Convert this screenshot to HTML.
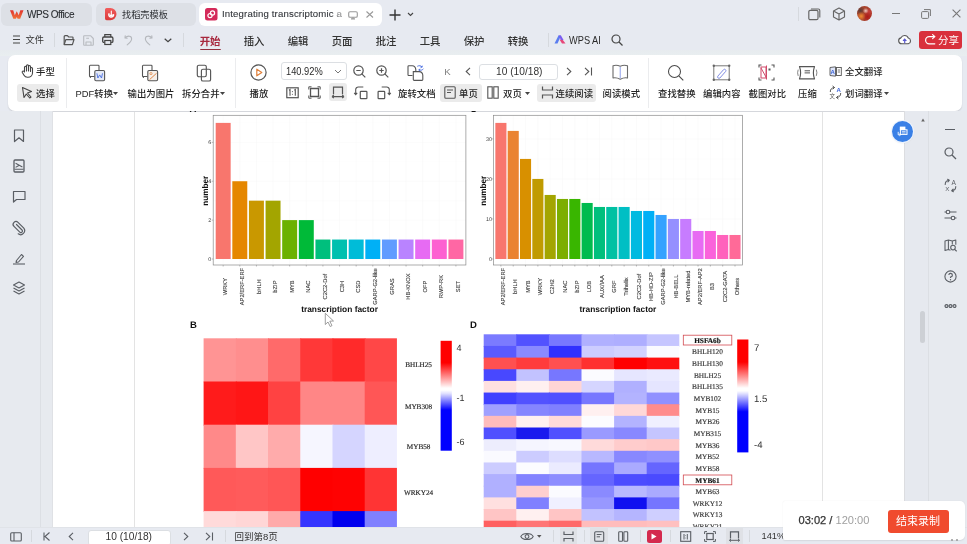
<!DOCTYPE html>
<html><head><meta charset="utf-8"><style>
html,body{margin:0;padding:0;}
body{width:967px;height:544px;overflow:hidden;position:relative;background:#e7eaf1;font-family:"Liberation Sans","Noto Sans CJK SC",sans-serif;}
.t{position:absolute;white-space:nowrap;}
svg{overflow:visible;}
</style></head><body>
<div style="position:absolute;left:1px;top:3px;width:91px;height:23px;background:#dde0e6;border-radius:6px"></div>
<div style="position:absolute;left:96px;top:3px;width:100px;height:23px;background:#dde0e6;border-radius:6px"></div>
<div style="position:absolute;left:199px;top:3px;width:183px;height:22.5px;background:#fff;border-radius:6px"></div>
<svg style="position:absolute;left:10px;top:9.5px;" width="13.5" height="9" viewBox="0 0 13.5 9" fill="none"><defs><linearGradient id="wg" x1="0" y1="0" x2="0" y2="1"><stop offset="0" stop-color="#e2342f"/><stop offset="1" stop-color="#f0743a"/></linearGradient></defs><path d="M0 0.3 H3.2 L4.8 5.2 L6.75 1.2 L8.7 5.2 L10.3 0.3 H13.5 L10.2 8.8 H7.6 L6.75 7 L5.9 8.8 H3.3 Z" fill="url(#wg)"/></svg>
<div class="t" style="left:27px;top:10px;font-size:10px;line-height:10px;color:#2c2f33;font-weight:normal;letter-spacing:-0.45px;-webkit-text-stroke:0.1px #2c2f33">WPS Office</div>
<svg style="position:absolute;left:105.2px;top:8.4px;" width="11.5" height="12.2" viewBox="0 0 11.5 12.2" fill="none"><defs><linearGradient id="dg" x1="0" y1="0" x2="0" y2="1"><stop offset="0" stop-color="#f25c5c"/><stop offset="1" stop-color="#d93a3a"/></linearGradient></defs><path d="M1.6 0 H5.4 A6.1 6.1 0 0 1 5.4 12.2 H1.6 A1.6 1.6 0 0 1 0 10.6 V1.6 A1.6 1.6 0 0 1 1.6 0 Z" fill="url(#dg)"/><path d="M4 5.8 A2.4 2.4 0 1 0 8.6 6.6" stroke="#fff" stroke-width="1.4" fill="none" stroke-linecap="round"/><path d="M6.3 3 V8.2 M4.9 6.9 L6.3 8.3 L7.7 6.9" stroke="#fff" stroke-width="1.1" stroke-linecap="round" stroke-linejoin="round"/></svg>
<div class="t" style="left:122px;top:10.6px;font-size:9.2px;line-height:9.2px;color:#2c2f33;font-weight:normal;">找稻壳模板</div>
<svg style="position:absolute;left:205px;top:8px;" width="13" height="13" viewBox="0 0 13 13" fill="none"><rect x="0" y="0" width="12.5" height="12.5" rx="2.5" fill="#d42a5a"/><circle cx="7.5" cy="5" r="2.1" stroke="#fff" stroke-width="1.2"/><circle cx="5" cy="7.6" r="2.1" stroke="#fff" stroke-width="1.2"/></svg>
<div class="t" style="left:222px;top:8.6px;font-size:9.6px;line-height:9.6px;color:#33363b;font-weight:normal;letter-spacing:0.15px;-webkit-text-stroke:0.1px #33363b">Integrating transcriptomic <span style="color:#aaa">a</span></div>
<svg style="position:absolute;left:348px;top:10.5px;" width="10" height="8.5" viewBox="0 0 10 8.5" fill="none"><rect x="0.7" y="0.7" width="8.6" height="5.6" rx="1.3" stroke="#999" stroke-width="1.1"/><path d="M3 7.9 H7 M5 6.3 V7.9" stroke="#999" stroke-width="1.1"/></svg>
<svg style="position:absolute;left:365.5px;top:11px;" width="7.5" height="7" viewBox="0 0 7.5 7" fill="none"><path d="M0.5 0.5 L7 6.5 M7 0.5 L0.5 6.5" stroke="#999" stroke-width="1.1"/></svg>
<svg style="position:absolute;left:389px;top:9px;" width="12" height="12" viewBox="0 0 12 12" fill="none"><path d="M6 0.5 V11.5 M0.5 6 H11.5" stroke="#333" stroke-width="1.4"/></svg>
<svg style="position:absolute;left:407px;top:12px;" width="7" height="5" viewBox="0 0 7 5" fill="none"><path d="M1 1 L3.5 3.5 L6 1" stroke="#444" stroke-width="1.1"/></svg>
<div style="position:absolute;left:798px;top:7px;width:1px;height:14px;background:#d6d9de"></div>
<svg style="position:absolute;left:807.5px;top:7.5px;" width="13" height="12.5" viewBox="0 0 13 12.5" fill="none"><rect x="0.8" y="2.3" width="9.2" height="9.4" rx="1.5" stroke="#666" stroke-width="1.2"/><path d="M3 1 H10.3 A1.5 1.5 0 0 1 11.8 2.5 V9.6" stroke="#666" stroke-width="1.1"/></svg>
<svg style="position:absolute;left:832px;top:7px;" width="14" height="14" viewBox="0 0 14 14" fill="none"><path d="M7 1 L12.5 4 V10 L7 13 L1.5 10 V4 Z M1.5 4 L7 7 L12.5 4 M7 7 V13" stroke="#666" stroke-width="1.15" stroke-linejoin="round"/></svg>
<div style="position:absolute;left:857px;top:6px;width:15px;height:15px;border-radius:50%;background:radial-gradient(circle at 58% 32%,#f0c8c0 0,#f0c8c000 22%),radial-gradient(circle at 28% 68%,#f08a30 0,#f08a3000 30%),radial-gradient(circle at 70% 72%,#b01818 0,#b0181800 35%),radial-gradient(circle at 22% 30%,#5a3a34 0,#5a3a3400 30%),radial-gradient(circle at 80% 40%,#c83a3a 0,#c83a3a00 30%),#a8442e"></div>
<div style="position:absolute;left:892px;top:13px;width:8px;height:1px;background:#777"></div>
<svg style="position:absolute;left:921px;top:9px;" width="11" height="10" viewBox="0 0 11 10" fill="none"><rect x="0.6" y="2.6" width="7" height="6.8" rx="1" stroke="#777" stroke-width="1"/><path d="M3 0.6 H9.4 V7" stroke="#777" stroke-width="1"/></svg>
<svg style="position:absolute;left:952px;top:9px;" width="9" height="9" viewBox="0 0 9 9" fill="none"><path d="M0.6 0.6 L8.4 8.4 M8.4 0.6 L0.6 8.4" stroke="#777" stroke-width="1.1"/></svg>
<svg style="position:absolute;left:13px;top:35px;" width="7" height="9" viewBox="0 0 7 9" fill="none"><path d="M0 1 H7 M0 4.5 H7 M0 8 H7" stroke="#444" stroke-width="1.2"/></svg>
<div class="t" style="left:25.5px;top:36px;font-size:9.2px;line-height:9.2px;color:#333;font-weight:normal;">文件</div>
<div style="position:absolute;left:54px;top:33px;width:1px;height:14px;background:#d6d9de"></div>
<svg style="position:absolute;left:62.5px;top:34.5px;" width="11.5" height="10.5" viewBox="0 0 11.5 10.5" fill="none"><path d="M1.2 9.6 V1.6 A0.9 0.9 0 0 1 2.1 0.7 H4.4 L5.7 2 H9.4 A0.6 0.6 0 0 1 10 2.6 V4.2" stroke="#555" stroke-width="1.2" stroke-linejoin="round"/><path d="M1.2 9.6 L2.8 4.6 H11 L9.4 9.6 Z" stroke="#555" stroke-width="1.2" stroke-linejoin="round"/></svg>
<svg style="position:absolute;left:83px;top:34.5px;" width="11" height="11" viewBox="0 0 11 11" fill="none"><path d="M1.2 0.7 H7.5 L10.3 3.5 V9.8 A0.5 0.5 0 0 1 9.8 10.3 H1.2 A0.5 0.5 0 0 1 0.7 9.8 V1.2 A0.5 0.5 0 0 1 1.2 0.7 Z M3 10.3 V7 H8 V10.3 M3.2 3.3 H6" stroke="#b8bbc0" stroke-width="1.1" stroke-linejoin="round"/></svg>
<svg style="position:absolute;left:102px;top:34.2px;" width="11.6" height="11.2" viewBox="0 0 11.6 11.2" fill="none"><path d="M2.8 3 V0.7 H8.8 V3" stroke="#444" stroke-width="1.2"/><path d="M2.5 8.4 H1.9 A1.2 1.2 0 0 1 0.7 7.2 V4.2 A1.2 1.2 0 0 1 1.9 3 H9.7 A1.2 1.2 0 0 1 10.9 4.2 V7.2 A1.2 1.2 0 0 1 9.7 8.4 H9.1" stroke="#444" stroke-width="1.3"/><rect x="2.8" y="6.5" width="6" height="4" stroke="#444" stroke-width="1.2" fill="none"/></svg>
<svg style="position:absolute;left:123.5px;top:35px;" width="9" height="10.5" viewBox="0 0 9 10.5" fill="none"><path d="M1 3 C3.5 0.3 8 0.5 7.6 4.2 C7.3 6.5 5 8.3 3.2 9.8 M1 3 L1.2 0.8 M1 3 L3.2 3.3" stroke="#b5b8bd" stroke-width="1.1" fill="none" stroke-linecap="round"/></svg>
<svg style="position:absolute;left:143.5px;top:35px;" width="9" height="10.5" viewBox="0 0 9 10.5" fill="none"><g transform="translate(9,0) scale(-1,1)"><path d="M1 3 C3.5 0.3 8 0.5 7.6 4.2 C7.3 6.5 5 8.3 3.2 9.8 M1 3 L1.2 0.8 M1 3 L3.2 3.3" stroke="#b5b8bd" stroke-width="1.1" fill="none" stroke-linecap="round"/></g></svg>
<svg style="position:absolute;left:163.5px;top:38px;" width="8" height="4.5" viewBox="0 0 8 4.5" fill="none"><path d="M0.7 0.7 L4 3.8 L7.3 0.7" stroke="#444" stroke-width="1.2"/></svg>
<div style="position:absolute;left:183px;top:33px;width:1px;height:14px;background:#d6d9de"></div>
<div class="t" style="left:199.7px;top:36.9px;font-size:10.4px;line-height:10.4px;color:#a8283e;font-weight:bold;">开始</div>
<div class="t" style="left:243.7px;top:36.9px;font-size:10.4px;line-height:10.4px;color:#333;font-weight:500;">插入</div>
<div class="t" style="left:287.7px;top:36.9px;font-size:10.4px;line-height:10.4px;color:#333;font-weight:500;">编辑</div>
<div class="t" style="left:331.7px;top:36.9px;font-size:10.4px;line-height:10.4px;color:#333;font-weight:500;">页面</div>
<div class="t" style="left:375.7px;top:36.9px;font-size:10.4px;line-height:10.4px;color:#333;font-weight:500;">批注</div>
<div class="t" style="left:419.7px;top:36.9px;font-size:10.4px;line-height:10.4px;color:#333;font-weight:500;">工具</div>
<div class="t" style="left:463.7px;top:36.9px;font-size:10.4px;line-height:10.4px;color:#333;font-weight:500;">保护</div>
<div class="t" style="left:507.7px;top:36.9px;font-size:10.4px;line-height:10.4px;color:#333;font-weight:500;">转换</div>
<div style="position:absolute;left:200px;top:49px;width:21px;height:1.8px;background:#93303f;border-radius:1px"></div>
<div style="position:absolute;left:548px;top:33px;width:1px;height:14px;background:#d6d9de"></div>
<svg style="position:absolute;left:554px;top:35px;" width="12" height="9" viewBox="0 0 12 9" fill="none"><path d="M0.5 8.5 L4.5 0.5 H7 L3.5 8.5 Z" fill="#5a7df0"/><path d="M5.5 4.5 L8 8.5 H11.5 L8.5 4.5 Z" fill="#e6477a"/><path d="M4.5 0.5 H7 L9.5 5 H7 Z" fill="#7a5cf0"/></svg>
<div class="t" style="left:569px;top:34.6px;font-size:11px;line-height:11px;color:#2a2a2a;font-weight:normal;"><span style="display:inline-block;transform:scaleX(0.84);transform-origin:0 0">WPS AI</span></div>
<svg style="position:absolute;left:611px;top:34px;" width="12" height="12" viewBox="0 0 12 12" fill="none"><circle cx="5" cy="5" r="4" stroke="#444" stroke-width="1.2"/><path d="M8 8 L11.5 11.5" stroke="#444" stroke-width="1.3"/></svg>
<svg style="position:absolute;left:897.5px;top:34.3px;" width="13.5" height="10.5" viewBox="0 0 13.5 10.5" fill="none"><path d="M3.6 9.8 A3 3 0 0 1 2.9 3.9 A4 4 0 0 1 10.3 4 A3 3 0 0 1 10.3 9.8 Z" stroke="#555" stroke-width="1.1" fill="#fff"/><path d="M6.7 9.2 V5.2 M5 6.8 L6.7 5.1 L8.4 6.8" stroke="#5a5ad0" stroke-width="1.2"/></svg>
<div style="position:absolute;left:919px;top:31px;width:43px;height:18px;background:#d9303c;border-radius:3px"></div>
<svg style="position:absolute;left:924px;top:33.5px;" width="12" height="12.5" viewBox="0 0 12 12.5" fill="none"><path d="M10.8 2.6 H5.2 A3.6 3.6 0 0 0 5.2 9.8 H10.8 M8.6 0.6 L10.9 2.6 L8.6 4.6" stroke="#fff" stroke-width="1.2" fill="none" stroke-linejoin="round" stroke-linecap="round"/></svg>
<div class="t" style="left:938px;top:35px;font-size:10.5px;line-height:10.5px;color:#fff;font-weight:normal;">分享</div>
<div style="position:absolute;left:0px;top:49.5px;width:967px;height:6px;background:linear-gradient(#e7ebef,#e9eef0)"></div>
<div style="position:absolute;left:8px;top:55px;width:954px;height:56px;background:#fff;border-radius:7px;box-shadow:0 1px 1.5px rgba(0,0,0,0.13)"></div>
<svg style="position:absolute;left:21px;top:64px;" width="13" height="14" viewBox="0 0 13 14" fill="none"><path d="M3.5 8 V3.2 A1 1 0 0 1 5.5 3.2 V7 V1.8 A1 1 0 0 1 7.5 1.8 V7 V2.5 A1 1 0 0 1 9.5 2.5 V7.5 V4.5 A1 1 0 0 1 11.5 4.5 V9 A4.5 4.5 0 0 1 7 13.3 H6.5 A4 4 0 0 1 3 11.3 L1.2 8.2 A1 1 0 0 1 2.8 7.2 Z" stroke="#444" stroke-width="1.1" stroke-linejoin="round"/></svg>
<div class="t" style="left:36px;top:66.8px;font-size:9.4px;line-height:9.4px;color:#262626;font-weight:500;">手型</div>
<div style="position:absolute;left:17px;top:84px;width:42px;height:18px;background:#ebebeb;border-radius:3px"></div>
<svg style="position:absolute;left:21px;top:86px;" width="12" height="13" viewBox="0 0 12 13" fill="none"><path d="M1.5 1.5 L10.5 5.5 L6.5 7 L10 11 L8.7 12 L5.3 8 L3 11.5 Z" stroke="#444" stroke-width="1.1" stroke-linejoin="round"/></svg>
<div class="t" style="left:36px;top:88.8px;font-size:9.4px;line-height:9.4px;color:#262626;font-weight:500;">选择</div>
<div style="position:absolute;left:66px;top:58px;width:1px;height:50px;background:#ebecee"></div>
<svg style="position:absolute;left:88px;top:64px;" width="18" height="18" viewBox="0 0 18 18" fill="none"><path d="M6.5 12.5 H2.3 A0.8 0.8 0 0 1 1.5 11.7 V2.1 A0.8 0.8 0 0 1 2.3 1.3 H10.2 A0.8 0.8 0 0 1 11 2.1 V6" stroke="#555" stroke-width="1.1"/><path d="M1.5 12.5 L2.8 14" stroke="#555" stroke-width="1"/><rect x="6.8" y="6.5" width="9.8" height="10.3" rx="1.2" stroke="#555" stroke-width="1.1" fill="#e4e9f6"/><path d="M8.9 9.3 L9.9 14 L11.7 10.9 L13.5 14 L14.5 9.3" stroke="#4a6ee0" stroke-width="0.9"/></svg>
<div class="t" style="left:75.5px;top:88.8px;font-size:9.4px;line-height:9.4px;color:#262626;font-weight:500;">PDF转换</div>
<svg style="position:absolute;left:112.5px;top:92px;" width="5" height="3" viewBox="0 0 5 3" fill="none"><path d="M0 0 H5 L2.5 3 Z" fill="#444"/></svg>
<svg style="position:absolute;left:141px;top:64px;" width="18" height="18" viewBox="0 0 18 18" fill="none"><path d="M6.5 12.5 H2.3 A0.8 0.8 0 0 1 1.5 11.7 V2.1 A0.8 0.8 0 0 1 2.3 1.3 H10.2 A0.8 0.8 0 0 1 11 2.1 V6" stroke="#555" stroke-width="1.1"/><path d="M1.5 12.5 L2.8 14" stroke="#555" stroke-width="1"/><rect x="6.8" y="6.5" width="9.8" height="10.3" rx="1.2" stroke="#555" stroke-width="1.1" fill="#f6efe9"/><circle cx="10" cy="9.6" r="1.1" stroke="#e08a4a" stroke-width="0.8"/><path d="M8.6 15.6 L15.6 9.2" stroke="#e08a4a" stroke-width="1"/></svg>
<div class="t" style="left:127.5px;top:88.8px;font-size:9.4px;line-height:9.4px;color:#262626;font-weight:500;">输出为图片</div>
<svg style="position:absolute;left:196px;top:64px;" width="16" height="18" viewBox="0 0 16 18" fill="none"><rect x="1.3" y="1.2" width="9" height="11.5" rx="1.6" stroke="#555" stroke-width="1.15"/><rect x="5.4" y="5.2" width="9.2" height="11.8" rx="1.6" stroke="#555" stroke-width="1.15"/></svg>
<div class="t" style="left:182px;top:88.8px;font-size:9.4px;line-height:9.4px;color:#262626;font-weight:500;">拆分合并</div>
<svg style="position:absolute;left:219.5px;top:92px;" width="5" height="3" viewBox="0 0 5 3" fill="none"><path d="M0 0 H5 L2.5 3 Z" fill="#444"/></svg>
<div style="position:absolute;left:235px;top:58px;width:1px;height:50px;background:#ebecee"></div>
<svg style="position:absolute;left:250px;top:64px;" width="17" height="17" viewBox="0 0 17 17" fill="none"><circle cx="8.5" cy="8.5" r="7.6" stroke="#555" stroke-width="1.2"/><path d="M6.8 5.2 L11.8 8.5 L6.8 11.8 Z" stroke="#e0803a" stroke-width="1.2" stroke-linejoin="round"/></svg>
<div class="t" style="left:249.5px;top:88.8px;font-size:9.4px;line-height:9.4px;color:#262626;font-weight:500;">播放</div>
<div style="position:absolute;left:280.8px;top:62.2px;width:66px;height:18px;border:1px solid #dcdfe3;border-radius:3px;box-sizing:border-box;background:#fff"></div>
<div class="t" style="left:285.6px;top:65.8px;font-size:10.5px;line-height:10.5px;color:#2a2a2a;font-weight:normal;"><span style="display:inline-block;transform:scaleX(0.885);transform-origin:0 0">140.92%</span></div>
<svg style="position:absolute;left:334px;top:69px;" width="8" height="5" viewBox="0 0 8 5" fill="none"><path d="M1 1 L4 4 L7 1" stroke="#777" stroke-width="1"/></svg>
<svg style="position:absolute;left:285.5px;top:86.5px;" width="13" height="11.5" viewBox="0 0 13 11.5" fill="none"><rect x="0.8" y="0.8" width="11.4" height="9.9" stroke="#555" stroke-width="1.2"/><path d="M3 3.3 L4 2.6 V8.8 M8.3 3.3 L9.3 2.6 V8.8" stroke="#555" stroke-width="1.1"/><circle cx="6.4" cy="4.6" r="0.55" fill="#555"/><circle cx="6.4" cy="7.2" r="0.55" fill="#555"/></svg>
<svg style="position:absolute;left:308px;top:86px;" width="13" height="13" viewBox="0 0 13 13" fill="none"><path d="M2.5 2.5 H10.5 V10.5 H2.5 Z" stroke="#555" stroke-width="1.3"/><path d="M0.8 3.5 V0.8 H3.5 M9.5 0.8 H12.2 V3.5 M12.2 9.5 V12.2 H9.5 M3.5 12.2 H0.8 V9.5" stroke="#555" stroke-width="1"/></svg>
<div style="position:absolute;left:328.5px;top:83px;width:18px;height:17.5px;background:#ebebeb;border-radius:3px"></div>
<svg style="position:absolute;left:331px;top:86px;" width="14" height="12.5" viewBox="0 0 14 12.5" fill="none"><path d="M2.5 8.2 V1.2 H11.5 V8.2" stroke="#555" stroke-width="1.2"/><path d="M1 10.6 H13 M1 10.6 L2.8 9 M1 10.6 L2.8 12.2 M13 10.6 L11.2 9 M13 10.6 L11.2 12.2" stroke="#555" stroke-width="1.1"/></svg>
<svg style="position:absolute;left:353px;top:65px;" width="13" height="13" viewBox="0 0 13 13" fill="none"><circle cx="5.5" cy="5.5" r="4.7" stroke="#555" stroke-width="1.2"/><path d="M3.3 5.5 H7.7 M8.8 8.8 L12.3 12.3" stroke="#555" stroke-width="1.2"/></svg>
<svg style="position:absolute;left:376px;top:65px;" width="13" height="13" viewBox="0 0 13 13" fill="none"><circle cx="5.5" cy="5.5" r="4.7" stroke="#555" stroke-width="1.2"/><path d="M3.3 5.5 H7.7 M5.5 3.3 V7.7 M8.8 8.8 L12.3 12.3" stroke="#555" stroke-width="1.2"/></svg>
<svg style="position:absolute;left:354px;top:86px;" width="14" height="13.5" viewBox="0 0 14 13.5" fill="none"><rect x="6.3" y="5.3" width="6.6" height="7.4" rx="0.7" stroke="#555" stroke-width="1.2"/><path d="M9.3 1 H4.3 A2.6 2.6 0 0 0 1.7 3.6 V8.6 M0.2 6.9 L1.7 8.7 L3.2 6.9" stroke="#555" stroke-width="1.1" fill="none"/></svg>
<svg style="position:absolute;left:376.5px;top:86px;" width="14" height="13.5" viewBox="0 0 14 13.5" fill="none"><g transform="translate(14,0) scale(-1,1)"><rect x="6.3" y="5.3" width="6.6" height="7.4" rx="0.7" stroke="#555" stroke-width="1.2"/><path d="M9.3 1 H4.3 A2.6 2.6 0 0 0 1.7 3.6 V8.6 M0.2 6.9 L1.7 8.7 L3.2 6.9" stroke="#555" stroke-width="1.1" fill="none"/></g></svg>
<svg style="position:absolute;left:407px;top:64px;" width="18" height="18" viewBox="0 0 18 18" fill="none"><path d="M5.5 11.5 H1.8 A0.8 0.8 0 0 1 1 10.7 V2.6 A0.8 0.8 0 0 1 1.8 1.8 H5.2 Q8.5 2 8.8 5.6 V7" stroke="#555" stroke-width="1.1" fill="none"/><path d="M6.3 7.6 H12.2 Q15.6 7.8 15.8 11.3 V15.6 A0.8 0.8 0 0 1 15 16.4 H7.1 A0.8 0.8 0 0 1 6.3 15.6 Z" stroke="#555" stroke-width="1.1" fill="#fff"/><path d="M10.3 2.3 C12 1.3 14 1.6 15 3 M13.5 3.2 L15.1 3.3 L15.3 1.7 M16.4 4.7 C15.6 6.2 13.6 6.6 12 5.8 M13.3 5 L11.8 5.7 L12.6 7" stroke="#4a6ee0" stroke-width="0.95" fill="none"/></svg>
<div class="t" style="left:398px;top:88.8px;font-size:9.4px;line-height:9.4px;color:#262626;font-weight:500;">旋转文档</div>
<div class="t" style="left:444.3px;top:67.3px;font-size:9.6px;line-height:9.6px;color:#808080;font-weight:normal;">K</div>
<svg style="position:absolute;left:465px;top:67px;" width="6" height="9" viewBox="0 0 6 9" fill="none"><path d="M5 0.8 L1.2 4.5 L5 8.2" stroke="#555" stroke-width="1.1"/></svg>
<div style="position:absolute;left:478.5px;top:63.5px;width:79px;height:16.5px;border:1px solid #dcdfe3;border-radius:3px;box-sizing:border-box;background:#fff"></div>
<div class="t" style="left:496px;top:66.5px;font-size:10.2px;line-height:10.2px;color:#333;font-weight:normal;">10 (10/18)</div>
<svg style="position:absolute;left:566px;top:67px;" width="6" height="9" viewBox="0 0 6 9" fill="none"><path d="M1 0.8 L4.8 4.5 L1 8.2" stroke="#555" stroke-width="1.1"/></svg>
<svg style="position:absolute;left:584px;top:67px;" width="9" height="9" viewBox="0 0 9 9" fill="none"><path d="M1 0.8 L4.8 4.5 L1 8.2 M7.5 0.5 V8.5" stroke="#555" stroke-width="1.1"/></svg>
<div style="position:absolute;left:440px;top:84px;width:41.5px;height:17.5px;background:#ebebeb;border-radius:3px"></div>
<svg style="position:absolute;left:444px;top:86px;" width="12" height="13" viewBox="0 0 12 13" fill="none"><rect x="0.8" y="0.8" width="10.4" height="11.4" rx="1" stroke="#555" stroke-width="1.1"/><path d="M3 4 H9 M3 6.5 H7" stroke="#555" stroke-width="1"/></svg>
<div class="t" style="left:459px;top:88.8px;font-size:9.4px;line-height:9.4px;color:#262626;font-weight:500;">单页</div>
<svg style="position:absolute;left:487px;top:86px;" width="12" height="13" viewBox="0 0 12 13" fill="none"><rect x="0.8" y="0.8" width="4.4" height="11.4" stroke="#555" stroke-width="1.1"/><rect x="6.8" y="0.8" width="4.4" height="11.4" stroke="#555" stroke-width="1.1"/></svg>
<div class="t" style="left:503px;top:88.8px;font-size:9.4px;line-height:9.4px;color:#262626;font-weight:500;">双页</div>
<svg style="position:absolute;left:525px;top:92px;" width="5" height="3" viewBox="0 0 5 3" fill="none"><path d="M0 0 H5 L2.5 3 Z" fill="#444"/></svg>
<div style="position:absolute;left:536.5px;top:84px;width:59.5px;height:17.5px;background:#ebebeb;border-radius:3px"></div>
<svg style="position:absolute;left:540.5px;top:86px;" width="13" height="13" viewBox="0 0 13 13" fill="none"><path d="M1.5 0.5 V4 H11.5 V0.5 M1.5 12.5 V9 H11.5 V12.5" stroke="#555" stroke-width="1.2"/></svg>
<div class="t" style="left:555.5px;top:88.8px;font-size:9.4px;line-height:9.4px;color:#262626;font-weight:500;">连续阅读</div>
<svg style="position:absolute;left:612px;top:64.3px;" width="16.5" height="16.5" viewBox="0 0 16.5 16.5" fill="none"><path d="M1 1.8 Q4.6 0.6 8.25 2.3 Q11.9 0.6 15.5 1.8 V14 Q11.9 13.3 8.25 15.3 Q4.6 13.3 1 14 Z" stroke="#6a6a6a" stroke-width="1.1" stroke-linejoin="round"/><path d="M8.25 3 V14.3" stroke="#9aa8ee" stroke-width="1.1"/></svg>
<div class="t" style="left:602.5px;top:88.8px;font-size:9.4px;line-height:9.4px;color:#262626;font-weight:500;">阅读模式</div>
<div style="position:absolute;left:648px;top:58px;width:1px;height:50px;background:#ebecee"></div>
<svg style="position:absolute;left:667px;top:64px;" width="18" height="18" viewBox="0 0 18 18" fill="none"><circle cx="7.5" cy="7.5" r="6" stroke="#4a4a4a" stroke-width="1.05"/><path d="M11.8 11.8 L16.3 16.3" stroke="#4a4a4a" stroke-width="1.15"/></svg>
<div class="t" style="left:658px;top:88.8px;font-size:9.4px;line-height:9.4px;color:#262626;font-weight:500;">查找替换</div>
<svg style="position:absolute;left:712px;top:64px;" width="19" height="18" viewBox="0 0 19 18" fill="none"><rect x="1.8" y="1.8" width="15.4" height="14" stroke="#777" stroke-width="1"/><circle cx="1.8" cy="1.8" r="1.2" fill="#666"/><circle cx="17.2" cy="1.8" r="1.2" fill="#666"/><circle cx="1.8" cy="15.8" r="1.2" fill="#666"/><circle cx="17.2" cy="15.8" r="1.2" fill="#666"/><path d="M5.8 12.2 L11.6 5.6 A1.4 1.4 0 0 1 13.7 7.4 L7.9 14 A1.4 1.4 0 0 1 5.8 12.2 Z" stroke="#7b88e2" stroke-width="0.95" stroke-linejoin="round"/></svg>
<div class="t" style="left:703px;top:88.8px;font-size:9.4px;line-height:9.4px;color:#262626;font-weight:500;">编辑内容</div>
<svg style="position:absolute;left:758px;top:64px;" width="17" height="17" viewBox="0 0 17 17" fill="none"><path d="M1 3.5 V1 H3.5 M13.5 1 H16 V3.5 M16 13.5 V16 H13.5 M3.5 16 H1 V13.5" stroke="#555" stroke-width="1.1"/><rect x="3" y="3" width="5" height="11" stroke="#d04a6a" stroke-width="1"/><path d="M3 4 L8 13" stroke="#d04a6a" stroke-width="1"/><path d="M8.5 1.5 V15.5" stroke="#d04a6a" stroke-width="1"/><rect x="10.5" y="4.5" width="2" height="2" fill="#555"/></svg>
<div class="t" style="left:748.5px;top:88.8px;font-size:9.4px;line-height:9.4px;color:#262626;font-weight:500;">截图对比</div>
<svg style="position:absolute;left:797px;top:65px;" width="20.5" height="15.5" viewBox="0 0 20.5 15.5" fill="none"><path d="M2.5 1.6 H17.5 Q15.3 7.75 17.5 13.9 H2.5 Q4.7 7.75 2.5 1.6 Z" stroke="#555" stroke-width="1.15" stroke-linejoin="round"/><path d="M7.6 5.8 H13 M7.6 7.9 H13" stroke="#555" stroke-width="1"/><path d="M1.2 4.6 Q0 7.75 1.2 10.9 M19.3 4.6 Q20.5 7.75 19.3 10.9" stroke="#777" stroke-width="0.9"/></svg>
<div class="t" style="left:798px;top:88.8px;font-size:9.4px;line-height:9.4px;color:#262626;font-weight:500;">压缩</div>
<svg style="position:absolute;left:829px;top:66px;" width="13" height="11" viewBox="0 0 13 11" fill="none"><path d="M1 1.5 L6.5 0.8 V10.2 L1 9.5 Z" stroke="#555" stroke-width="0.9" fill="#dfe6fb"/><text x="3.7" y="7.6" font-size="6" text-anchor="middle" fill="#3b63d8" font-family="Liberation Sans" font-weight="bold">A</text><rect x="7.5" y="1.5" width="4.8" height="8" stroke="#555" stroke-width="0.9"/><path d="M8.8 4 H11 M8.8 6 H11" stroke="#555" stroke-width="0.8"/></svg>
<div class="t" style="left:845px;top:67.3px;font-size:9.4px;line-height:9.4px;color:#262626;font-weight:500;">全文翻译</div>
<svg style="position:absolute;left:829px;top:86px;" width="13" height="13" viewBox="0 0 13 13" fill="none"><path d="M1.3 5.6 Q1.2 1.8 5.3 1.5 M3.9 0.2 L5.5 1.5 L4 3" stroke="#555" stroke-width="1" stroke-linecap="round" stroke-linejoin="round"/><text x="9.6" y="5.8" font-size="6" text-anchor="middle" fill="#3b63d8" font-family="Liberation Sans" font-weight="bold">A</text><text x="3.2" y="12.3" font-size="5.5" text-anchor="middle" fill="#555" font-family="Noto Sans CJK SC">文</text><path d="M11.7 7.4 Q11.8 11.2 7.7 11.5 M9.1 12.8 L7.5 11.5 L9 10" stroke="#555" stroke-width="1" stroke-linecap="round" stroke-linejoin="round"/></svg>
<div class="t" style="left:845px;top:88.8px;font-size:9.4px;line-height:9.4px;color:#262626;font-weight:500;">划词翻译</div>
<svg style="position:absolute;left:884px;top:92px;" width="5" height="3" viewBox="0 0 5 3" fill="none"><path d="M0 0 H5 L2.5 3 Z" fill="#444"/></svg>
<div style="position:absolute;left:0px;top:111px;width:40px;height:416px;background:#e7eaef"></div>
<div style="position:absolute;left:40px;top:111px;width:1px;height:416px;background:#dcdfe4"></div>
<div style="position:absolute;left:41px;top:111px;width:12px;height:416px;background:#e7eaef"></div>
<div style="position:absolute;left:52px;top:111px;width:1px;height:416px;background:#dfe1e5"></div>
<div style="position:absolute;left:53px;top:111px;width:851px;height:416px;background:#ffffff"></div>
<div style="position:absolute;left:134px;top:111px;width:1px;height:416px;background:#e3e3e3"></div>
<div style="position:absolute;left:822px;top:111px;width:1px;height:416px;background:#e3e3e3"></div>
<div style="position:absolute;left:904px;top:111px;width:24px;height:416px;background:#e6e9ef"></div>
<div style="position:absolute;left:904px;top:111px;width:1px;height:416px;background:#dcdde0"></div>
<div style="position:absolute;left:928px;top:111px;width:1px;height:416px;background:#dcdfe4"></div>
<div style="position:absolute;left:929px;top:111px;width:38px;height:416px;background:#e7eaef"></div>
<div style="position:absolute;left:53px;top:111px;width:851px;height:1px;background:#d5d7dc"></div>
<svg style="position:absolute;left:13px;top:129px;" width="12" height="14" viewBox="0 0 12 14" fill="none"><path d="M1.5 1 H10.5 V12.5 L6 8.8 L1.5 12.5 Z" stroke="#5a5e64" stroke-width="1.2" stroke-linejoin="round"/></svg>
<svg style="position:absolute;left:13px;top:159px;" width="12" height="14" viewBox="0 0 12 14" fill="none"><rect x="1" y="1" width="10" height="12" rx="1" stroke="#5a5e64" stroke-width="1.3"/><path d="M2.6 4.3 L9.4 8 M2.6 8.4 L6.2 6.2 M1.5 10.3 H10.5" stroke="#5a5e64" stroke-width="1.1"/></svg>
<svg style="position:absolute;left:12px;top:190px;" width="15" height="13" viewBox="0 0 15 13" fill="none"><path d="M1.5 1.5 H13 V9.5 H4.5 L1.5 12 Z" stroke="#5a5e64" stroke-width="1.2" stroke-linejoin="round"/></svg>
<svg style="position:absolute;left:12px;top:221px;" width="14" height="13" viewBox="0 0 14 13" fill="none"><g transform="translate(14,0) scale(-1,1)"><path d="M9.5 3.5 L4 9 A1.5 1.5 0 0 0 6.2 11.2 L12 5.4 A2.8 2.8 0 0 0 8 1.4 L2.2 7.2 A4 4 0 0 0 7.8 12.8" stroke="#5a5e64" stroke-width="1.2" stroke-linecap="round"/></g></svg>
<svg style="position:absolute;left:12px;top:252px;" width="14" height="13" viewBox="0 0 14 13" fill="none"><path d="M4.5 8.5 L9.5 2.5 L11.5 4.3 L6.5 10 L4 10.5 Z" stroke="#5a5e64" stroke-width="1.1" stroke-linejoin="round"/><path d="M1 12 H13" stroke="#5a5e64" stroke-width="1.1"/></svg>
<svg style="position:absolute;left:12px;top:281px;" width="14" height="14" viewBox="0 0 14 14" fill="none"><path d="M7 1 L12.5 4 L7 7 L1.5 4 Z" stroke="#5a5e64" stroke-width="1.1" stroke-linejoin="round"/><path d="M1.5 7 L7 10 L12.5 7 M1.5 10 L7 13 L12.5 10" stroke="#5a5e64" stroke-width="1.1" stroke-linejoin="round"/></svg>
<svg style="position:absolute;left:921px;top:118px;" width="4" height="4" viewBox="0 0 4 4" fill="none"><path d="M2 0.5 L3.8 3.5 H0.2 Z" fill="#666"/></svg>
<div style="position:absolute;left:945px;top:129px;width:10px;height:1.2px;background:#5a5e64"></div>
<svg style="position:absolute;left:944px;top:147px;" width="13" height="13" viewBox="0 0 13 13" fill="none"><circle cx="5" cy="5" r="4" stroke="#5a5e64" stroke-width="1.2"/><path d="M8 8 L12 12" stroke="#5a5e64" stroke-width="1.3"/></svg>
<svg style="position:absolute;left:944px;top:178.5px;" width="13" height="13" viewBox="0 0 13 13" fill="none"><path d="M1.2 5.5 A4.3 4.3 0 0 1 5.2 1.3 M3.6 0.2 L5.3 1.3 L3.9 2.9" stroke="#5a5e64" stroke-width="1.05" stroke-linecap="round" stroke-linejoin="round"/><text x="9.6" y="5.6" font-size="6.6" text-anchor="middle" fill="#5a5e64" font-family="Liberation Sans">A</text><text x="3.3" y="12.2" font-size="6.2" text-anchor="middle" fill="#5a5e64" font-family="Liberation Sans">X</text><path d="M11.8 7.5 A4.3 4.3 0 0 1 7.8 11.7 M9.4 12.8 L7.7 11.7 L9.1 10.1" stroke="#5a5e64" stroke-width="1.05" stroke-linecap="round" stroke-linejoin="round"/></svg>
<svg style="position:absolute;left:944px;top:209px;" width="13" height="12" viewBox="0 0 13 12" fill="none"><path d="M0.5 3 H12.5 M0.5 9 H12.5" stroke="#5a5e64" stroke-width="1.1"/><circle cx="4" cy="3" r="1.8" fill="#eef0f4" stroke="#5a5e64" stroke-width="1.1"/><circle cx="9" cy="9" r="1.8" fill="#eef0f4" stroke="#5a5e64" stroke-width="1.1"/></svg>
<svg style="position:absolute;left:944px;top:239px;" width="13" height="13" viewBox="0 0 13 13" fill="none"><path d="M6.5 11.2 L4.4 10.5 L1 11.5 V2 L4.4 1 L8.3 2 L11.8 1 V5.8 M4.4 1 V10.5 M8.3 2 V5.5" stroke="#5a5e64" stroke-width="1.05" stroke-linejoin="round"/><circle cx="9" cy="8.6" r="2.3" stroke="#5a5e64" stroke-width="1.05"/><path d="M10.7 10.3 L12.4 12" stroke="#5a5e64" stroke-width="1.1" stroke-linecap="round"/></svg>
<svg style="position:absolute;left:944px;top:270px;" width="13" height="13" viewBox="0 0 13 13" fill="none"><circle cx="6.5" cy="6.5" r="5.6" stroke="#5a5e64" stroke-width="1.1"/><path d="M4.8 5 A1.8 1.8 0 1 1 6.5 7 V8" stroke="#5a5e64" stroke-width="1.1"/><circle cx="6.5" cy="9.8" r="0.7" fill="#5a5e64"/></svg>
<svg style="position:absolute;left:944px;top:303px;" width="13" height="6" viewBox="0 0 13 6" fill="none"><circle cx="2.5" cy="3" r="1.45" stroke="#5a5e64" stroke-width="1.2"/><circle cx="6.5" cy="3" r="1.45" stroke="#5a5e64" stroke-width="1.2"/><circle cx="10.5" cy="3" r="1.45" stroke="#5a5e64" stroke-width="1.2"/></svg>
<div style="position:absolute;left:919.5px;top:311px;width:5.5px;height:31.5px;background:#cdd0d5;border-radius:3px"></div>
<svg style="position:absolute;left:53px;top:111px;overflow:hidden;text-rendering:geometricPrecision" width="851" height="416" viewBox="53 111 851 416"><rect x="213.2" y="115.3" width="252.7" height="149.7" fill="#fff"/><line x1="213.2" x2="465.9" y1="239.55" y2="239.55" stroke="#f9f9f9" stroke-width="0.4"/><line x1="213.2" x2="465.9" y1="200.67" y2="200.67" stroke="#f9f9f9" stroke-width="0.4"/><line x1="213.2" x2="465.9" y1="161.79" y2="161.79" stroke="#f9f9f9" stroke-width="0.4"/><line x1="213.2" x2="465.9" y1="122.90" y2="122.90" stroke="#f9f9f9" stroke-width="0.4"/><line x1="213.2" x2="465.9" y1="259.00" y2="259.00" stroke="#f6f6f6" stroke-width="0.5"/><line x1="213.2" x2="465.9" y1="220.11" y2="220.11" stroke="#f6f6f6" stroke-width="0.5"/><line x1="213.2" x2="465.9" y1="181.23" y2="181.23" stroke="#f6f6f6" stroke-width="0.5"/><line x1="213.2" x2="465.9" y1="142.35" y2="142.35" stroke="#f6f6f6" stroke-width="0.5"/><line x1="223.17" x2="223.17" y1="115.3" y2="265" stroke="#f6f6f6" stroke-width="0.5"/><line x1="239.80" x2="239.80" y1="115.3" y2="265" stroke="#f6f6f6" stroke-width="0.5"/><line x1="256.43" x2="256.43" y1="115.3" y2="265" stroke="#f6f6f6" stroke-width="0.5"/><line x1="273.05" x2="273.05" y1="115.3" y2="265" stroke="#f6f6f6" stroke-width="0.5"/><line x1="289.67" x2="289.67" y1="115.3" y2="265" stroke="#f6f6f6" stroke-width="0.5"/><line x1="306.30" x2="306.30" y1="115.3" y2="265" stroke="#f6f6f6" stroke-width="0.5"/><line x1="322.92" x2="322.92" y1="115.3" y2="265" stroke="#f6f6f6" stroke-width="0.5"/><line x1="339.55" x2="339.55" y1="115.3" y2="265" stroke="#f6f6f6" stroke-width="0.5"/><line x1="356.17" x2="356.17" y1="115.3" y2="265" stroke="#f6f6f6" stroke-width="0.5"/><line x1="372.80" x2="372.80" y1="115.3" y2="265" stroke="#f6f6f6" stroke-width="0.5"/><line x1="389.42" x2="389.42" y1="115.3" y2="265" stroke="#f6f6f6" stroke-width="0.5"/><line x1="406.05" x2="406.05" y1="115.3" y2="265" stroke="#f6f6f6" stroke-width="0.5"/><line x1="422.67" x2="422.67" y1="115.3" y2="265" stroke="#f6f6f6" stroke-width="0.5"/><line x1="439.30" x2="439.30" y1="115.3" y2="265" stroke="#f6f6f6" stroke-width="0.5"/><line x1="455.92" x2="455.92" y1="115.3" y2="265" stroke="#f6f6f6" stroke-width="0.5"/><rect x="215.69" y="122.90" width="14.96" height="136.09" fill="#F8766D"/><line x1="223.17" x2="223.17" y1="265" y2="266.5" stroke="#555" stroke-width="0.4"/><text transform="translate(227.27,286.6) rotate(-90)" text-anchor="middle" font-size="5.75" fill="#3a3a3a" stroke="#3a3a3a" stroke-width="0.1" font-family="'Liberation Sans',Arial,sans-serif">WRKY</text><rect x="232.32" y="181.23" width="14.96" height="77.77" fill="#E58700"/><line x1="239.80" x2="239.80" y1="265" y2="266.5" stroke="#555" stroke-width="0.4"/><text transform="translate(243.90,286.6) rotate(-90)" text-anchor="middle" font-size="5.75" fill="#3a3a3a" stroke="#3a3a3a" stroke-width="0.1" font-family="'Liberation Sans',Arial,sans-serif">AP2/ERF-ERF</text><rect x="248.94" y="200.67" width="14.96" height="58.32" fill="#C99800"/><line x1="256.43" x2="256.43" y1="265" y2="266.5" stroke="#555" stroke-width="0.4"/><text transform="translate(260.53,286.6) rotate(-90)" text-anchor="middle" font-size="5.75" fill="#3a3a3a" stroke="#3a3a3a" stroke-width="0.1" font-family="'Liberation Sans',Arial,sans-serif">bHLH</text><rect x="265.57" y="200.67" width="14.96" height="58.32" fill="#A3A500"/><line x1="273.05" x2="273.05" y1="265" y2="266.5" stroke="#555" stroke-width="0.4"/><text transform="translate(277.15,286.6) rotate(-90)" text-anchor="middle" font-size="5.75" fill="#3a3a3a" stroke="#3a3a3a" stroke-width="0.1" font-family="'Liberation Sans',Arial,sans-serif">bZIP</text><rect x="282.19" y="220.11" width="14.96" height="38.88" fill="#6BB100"/><line x1="289.67" x2="289.67" y1="265" y2="266.5" stroke="#555" stroke-width="0.4"/><text transform="translate(293.77,286.6) rotate(-90)" text-anchor="middle" font-size="5.75" fill="#3a3a3a" stroke="#3a3a3a" stroke-width="0.1" font-family="'Liberation Sans',Arial,sans-serif">MYB</text><rect x="298.82" y="220.11" width="14.96" height="38.88" fill="#00BA38"/><line x1="306.30" x2="306.30" y1="265" y2="266.5" stroke="#555" stroke-width="0.4"/><text transform="translate(310.40,286.6) rotate(-90)" text-anchor="middle" font-size="5.75" fill="#3a3a3a" stroke="#3a3a3a" stroke-width="0.1" font-family="'Liberation Sans',Arial,sans-serif">NAC</text><rect x="315.44" y="239.55" width="14.96" height="19.44" fill="#00BF7D"/><line x1="322.92" x2="322.92" y1="265" y2="266.5" stroke="#555" stroke-width="0.4"/><text transform="translate(327.02,286.6) rotate(-90)" text-anchor="middle" font-size="5.75" fill="#3a3a3a" stroke="#3a3a3a" stroke-width="0.1" font-family="'Liberation Sans',Arial,sans-serif">C2C2-Dof</text><rect x="332.07" y="239.55" width="14.96" height="19.44" fill="#00C0AF"/><line x1="339.55" x2="339.55" y1="265" y2="266.5" stroke="#555" stroke-width="0.4"/><text transform="translate(343.65,286.6) rotate(-90)" text-anchor="middle" font-size="5.75" fill="#3a3a3a" stroke="#3a3a3a" stroke-width="0.1" font-family="'Liberation Sans',Arial,sans-serif">C3H</text><rect x="348.69" y="239.55" width="14.96" height="19.44" fill="#00BCD8"/><line x1="356.17" x2="356.17" y1="265" y2="266.5" stroke="#555" stroke-width="0.4"/><text transform="translate(360.27,286.6) rotate(-90)" text-anchor="middle" font-size="5.75" fill="#3a3a3a" stroke="#3a3a3a" stroke-width="0.1" font-family="'Liberation Sans',Arial,sans-serif">CSD</text><rect x="365.32" y="239.55" width="14.96" height="19.44" fill="#00B0F6"/><line x1="372.80" x2="372.80" y1="265" y2="266.5" stroke="#555" stroke-width="0.4"/><text transform="translate(376.90,286.6) rotate(-90)" text-anchor="middle" font-size="5.75" fill="#3a3a3a" stroke="#3a3a3a" stroke-width="0.1" font-family="'Liberation Sans',Arial,sans-serif">GARP-G2-like</text><rect x="381.94" y="239.55" width="14.96" height="19.44" fill="#619CFF"/><line x1="389.42" x2="389.42" y1="265" y2="266.5" stroke="#555" stroke-width="0.4"/><text transform="translate(393.52,286.6) rotate(-90)" text-anchor="middle" font-size="5.75" fill="#3a3a3a" stroke="#3a3a3a" stroke-width="0.1" font-family="'Liberation Sans',Arial,sans-serif">GRAS</text><rect x="398.57" y="239.55" width="14.96" height="19.44" fill="#B983FF"/><line x1="406.05" x2="406.05" y1="265" y2="266.5" stroke="#555" stroke-width="0.4"/><text transform="translate(410.15,286.6) rotate(-90)" text-anchor="middle" font-size="5.75" fill="#3a3a3a" stroke="#3a3a3a" stroke-width="0.1" font-family="'Liberation Sans',Arial,sans-serif">HB-KNOX</text><rect x="415.19" y="239.55" width="14.96" height="19.44" fill="#E76BF3"/><line x1="422.67" x2="422.67" y1="265" y2="266.5" stroke="#555" stroke-width="0.4"/><text transform="translate(426.77,286.6) rotate(-90)" text-anchor="middle" font-size="5.75" fill="#3a3a3a" stroke="#3a3a3a" stroke-width="0.1" font-family="'Liberation Sans',Arial,sans-serif">OFP</text><rect x="431.82" y="239.55" width="14.96" height="19.44" fill="#FD61D1"/><line x1="439.30" x2="439.30" y1="265" y2="266.5" stroke="#555" stroke-width="0.4"/><text transform="translate(443.40,286.6) rotate(-90)" text-anchor="middle" font-size="5.75" fill="#3a3a3a" stroke="#3a3a3a" stroke-width="0.1" font-family="'Liberation Sans',Arial,sans-serif">RWP-RK</text><rect x="448.44" y="239.55" width="14.96" height="19.44" fill="#FF67A4"/><line x1="455.92" x2="455.92" y1="265" y2="266.5" stroke="#555" stroke-width="0.4"/><text transform="translate(460.02,286.6) rotate(-90)" text-anchor="middle" font-size="5.75" fill="#3a3a3a" stroke="#3a3a3a" stroke-width="0.1" font-family="'Liberation Sans',Arial,sans-serif">SET</text><line x1="211.7" x2="213.2" y1="259.00" y2="259.00" stroke="#555" stroke-width="0.4"/><text x="211.2" y="260.90" text-anchor="end" font-size="5.4" fill="#3a3a3a" font-family="'Liberation Sans',Arial,sans-serif">0</text><line x1="211.7" x2="213.2" y1="220.11" y2="220.11" stroke="#555" stroke-width="0.4"/><text x="211.2" y="222.01" text-anchor="end" font-size="5.4" fill="#3a3a3a" font-family="'Liberation Sans',Arial,sans-serif">2</text><line x1="211.7" x2="213.2" y1="181.23" y2="181.23" stroke="#555" stroke-width="0.4"/><text x="211.2" y="183.13" text-anchor="end" font-size="5.4" fill="#3a3a3a" font-family="'Liberation Sans',Arial,sans-serif">4</text><line x1="211.7" x2="213.2" y1="142.35" y2="142.35" stroke="#555" stroke-width="0.4"/><text x="211.2" y="144.25" text-anchor="end" font-size="5.4" fill="#3a3a3a" font-family="'Liberation Sans',Arial,sans-serif">6</text><rect x="213.2" y="115.3" width="252.7" height="149.7" fill="none" stroke="#8a8a8a" stroke-width="0.7"/><text x="339.55" y="312" text-anchor="middle" font-size="8.4" font-weight="bold" fill="#111" font-family="'Liberation Sans',Arial,sans-serif">transcription factor</text><text transform="translate(208.3,190.8) rotate(-90)" text-anchor="middle" font-size="8.2" font-weight="bold" fill="#111" font-family="'Liberation Sans',Arial,sans-serif">number</text><rect x="493.5" y="115.3" width="248.89999999999998" height="149.7" fill="#fff"/><line x1="493.5" x2="742.4" y1="238.98" y2="238.98" stroke="#f9f9f9" stroke-width="0.4"/><line x1="493.5" x2="742.4" y1="198.96" y2="198.96" stroke="#f9f9f9" stroke-width="0.4"/><line x1="493.5" x2="742.4" y1="158.93" y2="158.93" stroke="#f9f9f9" stroke-width="0.4"/><line x1="493.5" x2="742.4" y1="118.90" y2="118.90" stroke="#f9f9f9" stroke-width="0.4"/><line x1="493.5" x2="742.4" y1="259.00" y2="259.00" stroke="#f6f6f6" stroke-width="0.5"/><line x1="493.5" x2="742.4" y1="218.97" y2="218.97" stroke="#f6f6f6" stroke-width="0.5"/><line x1="493.5" x2="742.4" y1="178.94" y2="178.94" stroke="#f6f6f6" stroke-width="0.5"/><line x1="493.5" x2="742.4" y1="138.92" y2="138.92" stroke="#f6f6f6" stroke-width="0.5"/><line x1="500.89" x2="500.89" y1="115.3" y2="265" stroke="#f6f6f6" stroke-width="0.5"/><line x1="513.21" x2="513.21" y1="115.3" y2="265" stroke="#f6f6f6" stroke-width="0.5"/><line x1="525.54" x2="525.54" y1="115.3" y2="265" stroke="#f6f6f6" stroke-width="0.5"/><line x1="537.86" x2="537.86" y1="115.3" y2="265" stroke="#f6f6f6" stroke-width="0.5"/><line x1="550.18" x2="550.18" y1="115.3" y2="265" stroke="#f6f6f6" stroke-width="0.5"/><line x1="562.50" x2="562.50" y1="115.3" y2="265" stroke="#f6f6f6" stroke-width="0.5"/><line x1="574.82" x2="574.82" y1="115.3" y2="265" stroke="#f6f6f6" stroke-width="0.5"/><line x1="587.15" x2="587.15" y1="115.3" y2="265" stroke="#f6f6f6" stroke-width="0.5"/><line x1="599.47" x2="599.47" y1="115.3" y2="265" stroke="#f6f6f6" stroke-width="0.5"/><line x1="611.79" x2="611.79" y1="115.3" y2="265" stroke="#f6f6f6" stroke-width="0.5"/><line x1="624.11" x2="624.11" y1="115.3" y2="265" stroke="#f6f6f6" stroke-width="0.5"/><line x1="636.43" x2="636.43" y1="115.3" y2="265" stroke="#f6f6f6" stroke-width="0.5"/><line x1="648.75" x2="648.75" y1="115.3" y2="265" stroke="#f6f6f6" stroke-width="0.5"/><line x1="661.08" x2="661.08" y1="115.3" y2="265" stroke="#f6f6f6" stroke-width="0.5"/><line x1="673.40" x2="673.40" y1="115.3" y2="265" stroke="#f6f6f6" stroke-width="0.5"/><line x1="685.72" x2="685.72" y1="115.3" y2="265" stroke="#f6f6f6" stroke-width="0.5"/><line x1="698.04" x2="698.04" y1="115.3" y2="265" stroke="#f6f6f6" stroke-width="0.5"/><line x1="710.36" x2="710.36" y1="115.3" y2="265" stroke="#f6f6f6" stroke-width="0.5"/><line x1="722.69" x2="722.69" y1="115.3" y2="265" stroke="#f6f6f6" stroke-width="0.5"/><line x1="735.01" x2="735.01" y1="115.3" y2="265" stroke="#f6f6f6" stroke-width="0.5"/><rect x="495.35" y="122.90" width="11.09" height="136.09" fill="#F8766D"/><line x1="500.89" x2="500.89" y1="265" y2="266.5" stroke="#555" stroke-width="0.4"/><text transform="translate(504.99,286.6) rotate(-90)" text-anchor="middle" font-size="5.75" fill="#3a3a3a" stroke="#3a3a3a" stroke-width="0.1" font-family="'Liberation Sans',Arial,sans-serif">AP2/ERF-ERF</text><rect x="507.67" y="130.91" width="11.09" height="128.09" fill="#EA8331"/><line x1="513.21" x2="513.21" y1="265" y2="266.5" stroke="#555" stroke-width="0.4"/><text transform="translate(517.31,286.6) rotate(-90)" text-anchor="middle" font-size="5.75" fill="#3a3a3a" stroke="#3a3a3a" stroke-width="0.1" font-family="'Liberation Sans',Arial,sans-serif">bHLH</text><rect x="519.99" y="158.93" width="11.09" height="100.07" fill="#D89000"/><line x1="525.54" x2="525.54" y1="265" y2="266.5" stroke="#555" stroke-width="0.4"/><text transform="translate(529.64,286.6) rotate(-90)" text-anchor="middle" font-size="5.75" fill="#3a3a3a" stroke="#3a3a3a" stroke-width="0.1" font-family="'Liberation Sans',Arial,sans-serif">MYB</text><rect x="532.31" y="178.94" width="11.09" height="80.05" fill="#C09B00"/><line x1="537.86" x2="537.86" y1="265" y2="266.5" stroke="#555" stroke-width="0.4"/><text transform="translate(541.96,286.6) rotate(-90)" text-anchor="middle" font-size="5.75" fill="#3a3a3a" stroke="#3a3a3a" stroke-width="0.1" font-family="'Liberation Sans',Arial,sans-serif">WRKY</text><rect x="544.64" y="194.95" width="11.09" height="64.04" fill="#A3A500"/><line x1="550.18" x2="550.18" y1="265" y2="266.5" stroke="#555" stroke-width="0.4"/><text transform="translate(554.28,286.6) rotate(-90)" text-anchor="middle" font-size="5.75" fill="#3a3a3a" stroke="#3a3a3a" stroke-width="0.1" font-family="'Liberation Sans',Arial,sans-serif">C2H2</text><rect x="556.96" y="198.96" width="11.09" height="60.04" fill="#7CAE00"/><line x1="562.50" x2="562.50" y1="265" y2="266.5" stroke="#555" stroke-width="0.4"/><text transform="translate(566.60,286.6) rotate(-90)" text-anchor="middle" font-size="5.75" fill="#3a3a3a" stroke="#3a3a3a" stroke-width="0.1" font-family="'Liberation Sans',Arial,sans-serif">NAC</text><rect x="569.28" y="198.96" width="11.09" height="60.04" fill="#39B600"/><line x1="574.82" x2="574.82" y1="265" y2="266.5" stroke="#555" stroke-width="0.4"/><text transform="translate(578.92,286.6) rotate(-90)" text-anchor="middle" font-size="5.75" fill="#3a3a3a" stroke="#3a3a3a" stroke-width="0.1" font-family="'Liberation Sans',Arial,sans-serif">bZIP</text><rect x="581.60" y="202.96" width="11.09" height="56.04" fill="#00BB4E"/><line x1="587.15" x2="587.15" y1="265" y2="266.5" stroke="#555" stroke-width="0.4"/><text transform="translate(591.25,286.6) rotate(-90)" text-anchor="middle" font-size="5.75" fill="#3a3a3a" stroke="#3a3a3a" stroke-width="0.1" font-family="'Liberation Sans',Arial,sans-serif">LOB</text><rect x="593.92" y="206.96" width="11.09" height="52.03" fill="#00BF7D"/><line x1="599.47" x2="599.47" y1="265" y2="266.5" stroke="#555" stroke-width="0.4"/><text transform="translate(603.57,286.6) rotate(-90)" text-anchor="middle" font-size="5.75" fill="#3a3a3a" stroke="#3a3a3a" stroke-width="0.1" font-family="'Liberation Sans',Arial,sans-serif">AUX/IAA</text><rect x="606.24" y="206.96" width="11.09" height="52.03" fill="#00C1A3"/><line x1="611.79" x2="611.79" y1="265" y2="266.5" stroke="#555" stroke-width="0.4"/><text transform="translate(615.89,286.6) rotate(-90)" text-anchor="middle" font-size="5.75" fill="#3a3a3a" stroke="#3a3a3a" stroke-width="0.1" font-family="'Liberation Sans',Arial,sans-serif">GRF</text><rect x="618.57" y="206.96" width="11.09" height="52.03" fill="#00BFC4"/><line x1="624.11" x2="624.11" y1="265" y2="266.5" stroke="#555" stroke-width="0.4"/><text transform="translate(628.21,286.6) rotate(-90)" text-anchor="middle" font-size="5.75" fill="#3a3a3a" stroke="#3a3a3a" stroke-width="0.1" font-family="'Liberation Sans',Arial,sans-serif">Trihelix</text><rect x="630.89" y="210.96" width="11.09" height="48.03" fill="#00BAE0"/><line x1="636.43" x2="636.43" y1="265" y2="266.5" stroke="#555" stroke-width="0.4"/><text transform="translate(640.53,286.6) rotate(-90)" text-anchor="middle" font-size="5.75" fill="#3a3a3a" stroke="#3a3a3a" stroke-width="0.1" font-family="'Liberation Sans',Arial,sans-serif">C2C2-Dof</text><rect x="643.21" y="210.96" width="11.09" height="48.03" fill="#00B0F6"/><line x1="648.75" x2="648.75" y1="265" y2="266.5" stroke="#555" stroke-width="0.4"/><text transform="translate(652.85,286.6) rotate(-90)" text-anchor="middle" font-size="5.75" fill="#3a3a3a" stroke="#3a3a3a" stroke-width="0.1" font-family="'Liberation Sans',Arial,sans-serif">HB-HD-ZIP</text><rect x="655.53" y="214.97" width="11.09" height="44.03" fill="#35A2FF"/><line x1="661.08" x2="661.08" y1="265" y2="266.5" stroke="#555" stroke-width="0.4"/><text transform="translate(665.18,286.6) rotate(-90)" text-anchor="middle" font-size="5.75" fill="#3a3a3a" stroke="#3a3a3a" stroke-width="0.1" font-family="'Liberation Sans',Arial,sans-serif">GARP-G2-like</text><rect x="667.85" y="218.97" width="11.09" height="40.03" fill="#9590FF"/><line x1="673.40" x2="673.40" y1="265" y2="266.5" stroke="#555" stroke-width="0.4"/><text transform="translate(677.50,286.6) rotate(-90)" text-anchor="middle" font-size="5.75" fill="#3a3a3a" stroke="#3a3a3a" stroke-width="0.1" font-family="'Liberation Sans',Arial,sans-serif">HB-BELL</text><rect x="680.17" y="218.97" width="11.09" height="40.03" fill="#C77CFF"/><line x1="685.72" x2="685.72" y1="265" y2="266.5" stroke="#555" stroke-width="0.4"/><text transform="translate(689.82,286.6) rotate(-90)" text-anchor="middle" font-size="5.75" fill="#3a3a3a" stroke="#3a3a3a" stroke-width="0.1" font-family="'Liberation Sans',Arial,sans-serif">MYB-related</text><rect x="692.50" y="230.98" width="11.09" height="28.02" fill="#E76BF3"/><line x1="698.04" x2="698.04" y1="265" y2="266.5" stroke="#555" stroke-width="0.4"/><text transform="translate(702.14,286.6) rotate(-90)" text-anchor="middle" font-size="5.75" fill="#3a3a3a" stroke="#3a3a3a" stroke-width="0.1" font-family="'Liberation Sans',Arial,sans-serif">AP2/ERF-AP2</text><rect x="704.82" y="230.98" width="11.09" height="28.02" fill="#FA62DB"/><line x1="710.36" x2="710.36" y1="265" y2="266.5" stroke="#555" stroke-width="0.4"/><text transform="translate(714.46,286.6) rotate(-90)" text-anchor="middle" font-size="5.75" fill="#3a3a3a" stroke="#3a3a3a" stroke-width="0.1" font-family="'Liberation Sans',Arial,sans-serif">B3</text><rect x="717.14" y="234.98" width="11.09" height="24.02" fill="#FF62BC"/><line x1="722.69" x2="722.69" y1="265" y2="266.5" stroke="#555" stroke-width="0.4"/><text transform="translate(726.79,286.6) rotate(-90)" text-anchor="middle" font-size="5.75" fill="#3a3a3a" stroke="#3a3a3a" stroke-width="0.1" font-family="'Liberation Sans',Arial,sans-serif">C2C2-GATA</text><rect x="729.46" y="234.98" width="11.09" height="24.02" fill="#FF6A98"/><line x1="735.01" x2="735.01" y1="265" y2="266.5" stroke="#555" stroke-width="0.4"/><text transform="translate(739.11,286.6) rotate(-90)" text-anchor="middle" font-size="5.75" fill="#3a3a3a" stroke="#3a3a3a" stroke-width="0.1" font-family="'Liberation Sans',Arial,sans-serif">Others</text><line x1="492.0" x2="493.5" y1="259.00" y2="259.00" stroke="#555" stroke-width="0.4"/><text x="492" y="260.90" text-anchor="end" font-size="5.4" fill="#3a3a3a" font-family="'Liberation Sans',Arial,sans-serif">0</text><line x1="492.0" x2="493.5" y1="218.97" y2="218.97" stroke="#555" stroke-width="0.4"/><text x="492" y="220.87" text-anchor="end" font-size="5.4" fill="#3a3a3a" font-family="'Liberation Sans',Arial,sans-serif">10</text><line x1="492.0" x2="493.5" y1="178.94" y2="178.94" stroke="#555" stroke-width="0.4"/><text x="492" y="180.84" text-anchor="end" font-size="5.4" fill="#3a3a3a" font-family="'Liberation Sans',Arial,sans-serif">20</text><line x1="492.0" x2="493.5" y1="138.92" y2="138.92" stroke="#555" stroke-width="0.4"/><text x="492" y="140.82" text-anchor="end" font-size="5.4" fill="#3a3a3a" font-family="'Liberation Sans',Arial,sans-serif">30</text><rect x="493.5" y="115.3" width="248.89999999999998" height="149.7" fill="none" stroke="#8a8a8a" stroke-width="0.7"/><text x="617.95" y="312" text-anchor="middle" font-size="8.4" font-weight="bold" fill="#111" font-family="'Liberation Sans',Arial,sans-serif">transcription factor</text><text transform="translate(485.5,190.8) rotate(-90)" text-anchor="middle" font-size="8.2" font-weight="bold" fill="#111" font-family="'Liberation Sans',Arial,sans-serif">number</text><text x="189.5" y="112.4" font-size="9.5" font-weight="bold" fill="#111" font-family="'Liberation Sans',Arial,sans-serif">A</text><text x="470" y="112.4" font-size="9.5" font-weight="bold" fill="#111" font-family="'Liberation Sans',Arial,sans-serif">C</text><text x="190" y="328" font-size="9.5" font-weight="bold" fill="#111" font-family="'Liberation Sans',Arial,sans-serif">B</text><text x="470" y="328" font-size="9.5" font-weight="bold" fill="#111" font-family="'Liberation Sans',Arial,sans-serif">D</text><rect x="203.60" y="338.30" width="33.12" height="44.10" fill="#ff9494"/><rect x="235.82" y="338.30" width="33.12" height="44.10" fill="#ff8e8e"/><rect x="268.04" y="338.30" width="33.12" height="44.10" fill="#ff6a6a"/><rect x="300.26" y="338.30" width="33.12" height="44.10" fill="#ff3838"/><rect x="332.48" y="338.30" width="33.12" height="44.10" fill="#ff2a2a"/><rect x="364.70" y="338.30" width="32.22" height="44.10" fill="#ff4747"/><rect x="203.60" y="381.50" width="33.12" height="44.10" fill="#ff1b1b"/><rect x="235.82" y="381.50" width="33.12" height="44.10" fill="#ff1616"/><rect x="268.04" y="381.50" width="33.12" height="44.10" fill="#ff4242"/><rect x="300.26" y="381.50" width="33.12" height="44.10" fill="#ff8686"/><rect x="332.48" y="381.50" width="33.12" height="44.10" fill="#ff8686"/><rect x="364.70" y="381.50" width="32.22" height="44.10" fill="#ff5656"/><rect x="203.60" y="424.70" width="33.12" height="44.10" fill="#ff8989"/><rect x="235.82" y="424.70" width="33.12" height="44.10" fill="#ffc6c6"/><rect x="268.04" y="424.70" width="33.12" height="44.10" fill="#ffabab"/><rect x="300.26" y="424.70" width="33.12" height="44.10" fill="#f6f6ff"/><rect x="332.48" y="424.70" width="33.12" height="44.10" fill="#d5d5ff"/><rect x="364.70" y="424.70" width="32.22" height="44.10" fill="#eeeeff"/><rect x="203.60" y="467.90" width="33.12" height="44.10" fill="#ff5959"/><rect x="235.82" y="467.90" width="33.12" height="44.10" fill="#ff5b5b"/><rect x="268.04" y="467.90" width="33.12" height="44.10" fill="#ff5656"/><rect x="300.26" y="467.90" width="33.12" height="44.10" fill="#ff0000"/><rect x="332.48" y="467.90" width="33.12" height="44.10" fill="#ff0202"/><rect x="364.70" y="467.90" width="32.22" height="44.10" fill="#ff3434"/><rect x="203.60" y="511.10" width="33.12" height="44.10" fill="#ffdada"/><rect x="235.82" y="511.10" width="33.12" height="44.10" fill="#ffd6d6"/><rect x="268.04" y="511.10" width="33.12" height="44.10" fill="#ffaaaa"/><rect x="300.26" y="511.10" width="33.12" height="44.10" fill="#3535ff"/><rect x="332.48" y="511.10" width="33.12" height="44.10" fill="#0000ee"/><rect x="364.70" y="511.10" width="32.22" height="44.10" fill="#8080ff"/><text x="418.6" y="367.2" text-anchor="middle" font-size="7.2" fill="#222" stroke="#222" stroke-width="0.15" font-family="'Liberation Serif','Times New Roman',serif">BHLH25</text><text x="418.6" y="408.6" text-anchor="middle" font-size="7.2" fill="#222" stroke="#222" stroke-width="0.15" font-family="'Liberation Serif','Times New Roman',serif">MYB308</text><text x="418.6" y="449.2" text-anchor="middle" font-size="7.2" fill="#222" stroke="#222" stroke-width="0.15" font-family="'Liberation Serif','Times New Roman',serif">MYB58</text><text x="418.6" y="494.8" text-anchor="middle" font-size="7.2" fill="#222" stroke="#222" stroke-width="0.15" font-family="'Liberation Serif','Times New Roman',serif">WRKY24</text><defs><linearGradient id="gb" x1="0" y1="0" x2="0" y2="1"><stop offset="0" stop-color="#ff0000"/><stop offset="0.2" stop-color="#ff0000"/><stop offset="0.43" stop-color="#ffffff"/><stop offset="0.45" stop-color="#ffffff"/><stop offset="0.48" stop-color="#e0e0ff"/><stop offset="0.63" stop-color="#0000ff"/><stop offset="1" stop-color="#0000ff"/></linearGradient></defs><rect x="440.6" y="340.8" width="11.2" height="109.9" fill="url(#gb)"/><text x="456.5" y="351.3" font-size="9" fill="#333" font-family="'Liberation Sans',Arial,sans-serif">4</text><text x="456.5" y="401.3" font-size="9" fill="#333" font-family="'Liberation Sans',Arial,sans-serif">-1</text><text x="456.5" y="445.3" font-size="9" fill="#333" font-family="'Liberation Sans',Arial,sans-serif">-6</text><rect x="483.70" y="334.30" width="33.50" height="12.55" fill="#7b7bff"/><rect x="516.30" y="334.30" width="33.50" height="12.55" fill="#5252ff"/><rect x="548.90" y="334.30" width="33.50" height="12.55" fill="#7878ff"/><rect x="581.50" y="334.30" width="33.50" height="12.55" fill="#b0b0ff"/><rect x="614.10" y="334.30" width="33.50" height="12.55" fill="#aeaeff"/><rect x="646.70" y="334.30" width="32.60" height="12.55" fill="#c5c5ff"/><rect x="483.70" y="345.95" width="33.50" height="12.55" fill="#5a5aff"/><rect x="516.30" y="345.95" width="33.50" height="12.55" fill="#8a8aff"/><rect x="548.90" y="345.95" width="33.50" height="12.55" fill="#3030ff"/><rect x="581.50" y="345.95" width="33.50" height="12.55" fill="#ccccff"/><rect x="614.10" y="345.95" width="33.50" height="12.55" fill="#d2d2ff"/><rect x="646.70" y="345.95" width="32.60" height="12.55" fill="#fafaff"/><rect x="483.70" y="357.60" width="33.50" height="12.55" fill="#ff5050"/><rect x="516.30" y="357.60" width="33.50" height="12.55" fill="#ff3c3c"/><rect x="548.90" y="357.60" width="33.50" height="12.55" fill="#ff5050"/><rect x="581.50" y="357.60" width="33.50" height="12.55" fill="#ff3030"/><rect x="614.10" y="357.60" width="33.50" height="12.55" fill="#ff0000"/><rect x="646.70" y="357.60" width="32.60" height="12.55" fill="#ff1010"/><rect x="483.70" y="369.25" width="33.50" height="12.55" fill="#4848ff"/><rect x="516.30" y="369.25" width="33.50" height="12.55" fill="#c2c2ff"/><rect x="548.90" y="369.25" width="33.50" height="12.55" fill="#7777ff"/><rect x="581.50" y="369.25" width="33.50" height="12.55" fill="#fbfbff"/><rect x="614.10" y="369.25" width="33.50" height="12.55" fill="#e6e6ff"/><rect x="646.70" y="369.25" width="32.60" height="12.55" fill="#eaeaff"/><rect x="483.70" y="380.90" width="33.50" height="12.55" fill="#ffe0e0"/><rect x="516.30" y="380.90" width="33.50" height="12.55" fill="#fff0f0"/><rect x="548.90" y="380.90" width="33.50" height="12.55" fill="#ffd5d5"/><rect x="581.50" y="380.90" width="33.50" height="12.55" fill="#d5d5ff"/><rect x="614.10" y="380.90" width="33.50" height="12.55" fill="#b0b0ff"/><rect x="646.70" y="380.90" width="32.60" height="12.55" fill="#e5e5ff"/><rect x="483.70" y="392.55" width="33.50" height="12.55" fill="#4040ff"/><rect x="516.30" y="392.55" width="33.50" height="12.55" fill="#5252ff"/><rect x="548.90" y="392.55" width="33.50" height="12.55" fill="#5050ff"/><rect x="581.50" y="392.55" width="33.50" height="12.55" fill="#7777ff"/><rect x="614.10" y="392.55" width="33.50" height="12.55" fill="#b3b3ff"/><rect x="646.70" y="392.55" width="32.60" height="12.55" fill="#9090ff"/><rect x="483.70" y="404.20" width="33.50" height="12.55" fill="#a0a0ff"/><rect x="516.30" y="404.20" width="33.50" height="12.55" fill="#8585ff"/><rect x="548.90" y="404.20" width="33.50" height="12.55" fill="#8080ff"/><rect x="581.50" y="404.20" width="33.50" height="12.55" fill="#fff0f0"/><rect x="614.10" y="404.20" width="33.50" height="12.55" fill="#ffd8d8"/><rect x="646.70" y="404.20" width="32.60" height="12.55" fill="#ff8c8c"/><rect x="483.70" y="415.85" width="33.50" height="12.55" fill="#ffbcbc"/><rect x="516.30" y="415.85" width="33.50" height="12.55" fill="#fff0f0"/><rect x="548.90" y="415.85" width="33.50" height="12.55" fill="#ffdada"/><rect x="581.50" y="415.85" width="33.50" height="12.55" fill="#fcfcff"/><rect x="614.10" y="415.85" width="33.50" height="12.55" fill="#b3b3ff"/><rect x="646.70" y="415.85" width="32.60" height="12.55" fill="#f0f0ff"/><rect x="483.70" y="427.50" width="33.50" height="12.55" fill="#5050ff"/><rect x="516.30" y="427.50" width="33.50" height="12.55" fill="#1a1aee"/><rect x="548.90" y="427.50" width="33.50" height="12.55" fill="#5050ff"/><rect x="581.50" y="427.50" width="33.50" height="12.55" fill="#9a9aff"/><rect x="614.10" y="427.50" width="33.50" height="12.55" fill="#8888ff"/><rect x="646.70" y="427.50" width="32.60" height="12.55" fill="#c5c5ff"/><rect x="483.70" y="439.15" width="33.50" height="12.55" fill="#ededfd"/><rect x="516.30" y="439.15" width="33.50" height="12.55" fill="#f5f5ff"/><rect x="548.90" y="439.15" width="33.50" height="12.55" fill="#f8f8ff"/><rect x="581.50" y="439.15" width="33.50" height="12.55" fill="#ffdada"/><rect x="614.10" y="439.15" width="33.50" height="12.55" fill="#ffcccc"/><rect x="646.70" y="439.15" width="32.60" height="12.55" fill="#ffc8c8"/><rect x="483.70" y="450.80" width="33.50" height="12.55" fill="#fafaff"/><rect x="516.30" y="450.80" width="33.50" height="12.55" fill="#ccccff"/><rect x="548.90" y="450.80" width="33.50" height="12.55" fill="#ddddff"/><rect x="581.50" y="450.80" width="33.50" height="12.55" fill="#b8b8ff"/><rect x="614.10" y="450.80" width="33.50" height="12.55" fill="#8888ff"/><rect x="646.70" y="450.80" width="32.60" height="12.55" fill="#9090ff"/><rect x="483.70" y="462.45" width="33.50" height="12.55" fill="#ccccff"/><rect x="516.30" y="462.45" width="33.50" height="12.55" fill="#fcfcff"/><rect x="548.90" y="462.45" width="33.50" height="12.55" fill="#ebebff"/><rect x="581.50" y="462.45" width="33.50" height="12.55" fill="#7575ff"/><rect x="614.10" y="462.45" width="33.50" height="12.55" fill="#aaaaff"/><rect x="646.70" y="462.45" width="32.60" height="12.55" fill="#6565ff"/><rect x="483.70" y="474.10" width="33.50" height="12.55" fill="#b0b0ff"/><rect x="516.30" y="474.10" width="33.50" height="12.55" fill="#8383ff"/><rect x="548.90" y="474.10" width="33.50" height="12.55" fill="#8d8dff"/><rect x="581.50" y="474.10" width="33.50" height="12.55" fill="#6565ff"/><rect x="614.10" y="474.10" width="33.50" height="12.55" fill="#4c4cff"/><rect x="646.70" y="474.10" width="32.60" height="12.55" fill="#4a4aff"/><rect x="483.70" y="485.75" width="33.50" height="12.55" fill="#b0b0ff"/><rect x="516.30" y="485.75" width="33.50" height="12.55" fill="#ffcfcf"/><rect x="548.90" y="485.75" width="33.50" height="12.55" fill="#fbfbff"/><rect x="581.50" y="485.75" width="33.50" height="12.55" fill="#8a8aff"/><rect x="614.10" y="485.75" width="33.50" height="12.55" fill="#b8b8ff"/><rect x="646.70" y="485.75" width="32.60" height="12.55" fill="#aaaaff"/><rect x="483.70" y="497.40" width="33.50" height="12.55" fill="#ffe0e0"/><rect x="516.30" y="497.40" width="33.50" height="12.55" fill="#8080ff"/><rect x="548.90" y="497.40" width="33.50" height="12.55" fill="#f0f0ff"/><rect x="581.50" y="497.40" width="33.50" height="12.55" fill="#9898ff"/><rect x="614.10" y="497.40" width="33.50" height="12.55" fill="#1010f0"/><rect x="646.70" y="497.40" width="32.60" height="12.55" fill="#7575ff"/><rect x="483.70" y="509.05" width="33.50" height="12.55" fill="#ffc5c5"/><rect x="516.30" y="509.05" width="33.50" height="12.55" fill="#fff0f0"/><rect x="548.90" y="509.05" width="33.50" height="12.55" fill="#ffc5c5"/><rect x="581.50" y="509.05" width="33.50" height="12.55" fill="#c2c2ff"/><rect x="614.10" y="509.05" width="33.50" height="12.55" fill="#b5b5ff"/><rect x="646.70" y="509.05" width="32.60" height="12.55" fill="#cfcfff"/><rect x="483.70" y="520.70" width="33.50" height="12.55" fill="#ff6060"/><rect x="516.30" y="520.70" width="33.50" height="12.55" fill="#ff7575"/><rect x="548.90" y="520.70" width="33.50" height="12.55" fill="#ff6a6a"/><rect x="581.50" y="520.70" width="33.50" height="12.55" fill="#ffbcbc"/><rect x="614.10" y="520.70" width="33.50" height="12.55" fill="#ffbcbc"/><rect x="646.70" y="520.70" width="32.60" height="12.55" fill="#ffc0c0"/><text x="707.5" y="342.73" text-anchor="middle" font-size="7.3" fill="#111" stroke="#111" stroke-width="0.15" font-weight="bold" font-family="'Liberation Serif','Times New Roman',serif">HSFA6b</text><rect x="683.3" y="335.20" width="48.5" height="9.8" fill="none" stroke="#d24a50" stroke-width="0.8"/><text x="707.5" y="354.38" text-anchor="middle" font-size="7.3" fill="#333" stroke="#333" stroke-width="0.15" font-weight="normal" font-family="'Liberation Serif','Times New Roman',serif">BHLH120</text><text x="707.5" y="366.03" text-anchor="middle" font-size="7.3" fill="#333" stroke="#333" stroke-width="0.15" font-weight="normal" font-family="'Liberation Serif','Times New Roman',serif">BHLH130</text><text x="707.5" y="377.68" text-anchor="middle" font-size="7.3" fill="#333" stroke="#333" stroke-width="0.15" font-weight="normal" font-family="'Liberation Serif','Times New Roman',serif">BHLH25</text><text x="707.5" y="389.33" text-anchor="middle" font-size="7.3" fill="#333" stroke="#333" stroke-width="0.15" font-weight="normal" font-family="'Liberation Serif','Times New Roman',serif">BHLH135</text><text x="707.5" y="400.98" text-anchor="middle" font-size="7.3" fill="#333" stroke="#333" stroke-width="0.15" font-weight="normal" font-family="'Liberation Serif','Times New Roman',serif">MYB102</text><text x="707.5" y="412.63" text-anchor="middle" font-size="7.3" fill="#333" stroke="#333" stroke-width="0.15" font-weight="normal" font-family="'Liberation Serif','Times New Roman',serif">MYB15</text><text x="707.5" y="424.28" text-anchor="middle" font-size="7.3" fill="#333" stroke="#333" stroke-width="0.15" font-weight="normal" font-family="'Liberation Serif','Times New Roman',serif">MYB26</text><text x="707.5" y="435.93" text-anchor="middle" font-size="7.3" fill="#333" stroke="#333" stroke-width="0.15" font-weight="normal" font-family="'Liberation Serif','Times New Roman',serif">MYB315</text><text x="707.5" y="447.58" text-anchor="middle" font-size="7.3" fill="#333" stroke="#333" stroke-width="0.15" font-weight="normal" font-family="'Liberation Serif','Times New Roman',serif">MYB36</text><text x="707.5" y="459.23" text-anchor="middle" font-size="7.3" fill="#333" stroke="#333" stroke-width="0.15" font-weight="normal" font-family="'Liberation Serif','Times New Roman',serif">MYB52</text><text x="707.5" y="470.88" text-anchor="middle" font-size="7.3" fill="#333" stroke="#333" stroke-width="0.15" font-weight="normal" font-family="'Liberation Serif','Times New Roman',serif">MYB58</text><text x="707.5" y="482.53" text-anchor="middle" font-size="7.3" fill="#111" stroke="#111" stroke-width="0.15" font-weight="bold" font-family="'Liberation Serif','Times New Roman',serif">MYB61</text><rect x="683.3" y="475.00" width="48.5" height="9.8" fill="none" stroke="#d24a50" stroke-width="0.8"/><text x="707.5" y="494.18" text-anchor="middle" font-size="7.3" fill="#333" stroke="#333" stroke-width="0.15" font-weight="normal" font-family="'Liberation Serif','Times New Roman',serif">MYB63</text><text x="707.5" y="505.82" text-anchor="middle" font-size="7.3" fill="#333" stroke="#333" stroke-width="0.15" font-weight="normal" font-family="'Liberation Serif','Times New Roman',serif">WRKY12</text><text x="707.5" y="517.48" text-anchor="middle" font-size="7.3" fill="#333" stroke="#333" stroke-width="0.15" font-weight="normal" font-family="'Liberation Serif','Times New Roman',serif">WRKY13</text><text x="707.5" y="529.13" text-anchor="middle" font-size="7.3" fill="#333" stroke="#333" stroke-width="0.15" font-weight="normal" font-family="'Liberation Serif','Times New Roman',serif">WRKY21</text><defs><linearGradient id="gd" x1="0" y1="0" x2="0" y2="1"><stop offset="0" stop-color="#ff0000"/><stop offset="0.2" stop-color="#ff0000"/><stop offset="0.43" stop-color="#ffffff"/><stop offset="0.455" stop-color="#ffffff"/><stop offset="0.48" stop-color="#e0e0ff"/><stop offset="0.64" stop-color="#0000ff"/><stop offset="1" stop-color="#0000ff"/></linearGradient></defs><rect x="737.2" y="339.5" width="11.2" height="112.9" fill="url(#gd)"/><text x="754" y="350.7" font-size="9.6" fill="#333" font-family="'Liberation Sans',Arial,sans-serif">7</text><text x="754" y="402.2" font-size="9.6" fill="#333" font-family="'Liberation Sans',Arial,sans-serif">1.5</text><text x="754" y="448.2" font-size="9.6" fill="#333" font-family="'Liberation Sans',Arial,sans-serif">-4</text><path d="M325.3 313.3 L325.3 324.5 L328 322 L330.2 326.5 L332 325.6 L329.8 321.2 L333.5 321 Z" fill="#fff" stroke="#777" stroke-width="0.7" stroke-linejoin="round"/></svg>
<div style="position:absolute;left:891.5px;top:120.5px;width:21px;height:21px;border-radius:50%;background:#3a80e6;box-shadow:0 0 0 1px #eef4fd,0 1px 2px rgba(0,0,0,0.12)"></div>
<svg style="position:absolute;left:895px;top:124px;" width="14" height="14" viewBox="0 0 14 14" fill="none"><rect x="4.8" y="2.6" width="5.6" height="3.4" fill="#fff"/><rect x="5.4" y="5.8" width="6.6" height="4.6" stroke="#fff" stroke-width="1"/><path d="M6.8 7.6 H10.6 M6.8 9 H10.6" stroke="#fff" stroke-width="0.7"/><path d="M3.2 7.8 V10.8 H5.4 M4.4 9.8 L5.5 10.8 L4.4 11.8" stroke="#fff" stroke-width="0.9" fill="none"/></svg>
<div style="position:absolute;left:0px;top:527px;width:967px;height:17px;background:#e7eaf1"></div>
<div style="position:absolute;left:0px;top:527px;width:967px;height:1px;background:#e0e3e8"></div>
<svg style="position:absolute;left:10px;top:532px;" width="12" height="10" viewBox="0 0 12 10" fill="none"><rect x="0.7" y="0.7" width="10.6" height="8.3" rx="1" stroke="#5a5e64" stroke-width="1.1"/><path d="M4 0.7 V9" stroke="#5a5e64" stroke-width="1.1"/></svg>
<div style="position:absolute;left:31px;top:530px;width:1px;height:12px;background:#d6d9de"></div>
<svg style="position:absolute;left:43px;top:532px;" width="8" height="9" viewBox="0 0 8 9" fill="none"><path d="M1 0.5 V8.5 M6.5 0.5 L2 4.5 L6.5 8.5" stroke="#5a5e64" stroke-width="1.1"/></svg>
<svg style="position:absolute;left:68px;top:532px;" width="6" height="9" viewBox="0 0 6 9" fill="none"><path d="M5 0.8 L1.2 4.5 L5 8.2" stroke="#5a5e64" stroke-width="1.1"/></svg>
<div style="position:absolute;left:87.5px;top:529.5px;width:83px;height:16px;background:#fff;border:1px solid #dcdfe3;border-radius:3px;box-sizing:border-box"></div>
<div class="t" style="left:105.5px;top:531.5px;font-size:10.2px;line-height:10.2px;color:#333;font-weight:normal;">10 (10/18)</div>
<svg style="position:absolute;left:183px;top:532px;" width="6" height="9" viewBox="0 0 6 9" fill="none"><path d="M1 0.8 L4.8 4.5 L1 8.2" stroke="#5a5e64" stroke-width="1.1"/></svg>
<svg style="position:absolute;left:205px;top:532px;" width="9" height="9" viewBox="0 0 9 9" fill="none"><path d="M1 0.8 L4.8 4.5 L1 8.2 M7.5 0.5 V8.5" stroke="#5a5e64" stroke-width="1.1"/></svg>
<div style="position:absolute;left:225px;top:530px;width:1px;height:12px;background:#d6d9de"></div>
<div class="t" style="left:234.5px;top:531.5px;font-size:9.5px;line-height:9.5px;color:#333;font-weight:normal;">回到第8页</div>
<svg style="position:absolute;left:520px;top:532px;" width="14" height="9" viewBox="0 0 14 9" fill="none"><path d="M0.8 4.5 C2.8 0.4 11.2 0.4 13.2 4.5 C11.2 8.6 2.8 8.6 0.8 4.5 Z" stroke="#5a5e64" stroke-width="1.05"/><circle cx="7" cy="4.5" r="1.9" stroke="#5a5e64" stroke-width="1.05"/></svg>
<svg style="position:absolute;left:536.5px;top:535px;" width="5" height="3" viewBox="0 0 5 3" fill="none"><path d="M0 0 H4.5 L2.25 2.8 Z" fill="#555"/></svg>
<div style="position:absolute;left:552.5px;top:530px;width:1px;height:12px;background:#d6d9de"></div>
<div style="position:absolute;left:559.5px;top:528px;width:17px;height:16px;background:#dfe1e6"></div>
<svg style="position:absolute;left:562.5px;top:531px;" width="11" height="11" viewBox="0 0 11 11" fill="none"><path d="M1 0.5 V3.5 H10 V0.5 M1 10.5 V7.5 H10 V10.5" stroke="#5a5e64" stroke-width="1.2"/></svg>
<div style="position:absolute;left:583.5px;top:530px;width:1px;height:12px;background:#d6d9de"></div>
<div style="position:absolute;left:590px;top:528px;width:17.5px;height:16px;background:#dfe1e6"></div>
<svg style="position:absolute;left:593.5px;top:531px;" width="10.5" height="11" viewBox="0 0 10.5 11" fill="none"><rect x="0.7" y="0.7" width="9" height="9.6" rx="1" stroke="#5a5e64" stroke-width="1.1"/><path d="M2.7 3.5 H7.5 M2.7 5.8 H6" stroke="#5a5e64" stroke-width="1"/></svg>
<svg style="position:absolute;left:618px;top:531px;" width="10.5" height="11" viewBox="0 0 10.5 11" fill="none"><rect x="0.7" y="0.7" width="3.8" height="9.6" rx="0.8" stroke="#5a5e64" stroke-width="1.1"/><rect x="5.9" y="0.7" width="3.8" height="9.6" rx="0.8" stroke="#5a5e64" stroke-width="1.1"/></svg>
<div style="position:absolute;left:640px;top:530px;width:1px;height:12px;background:#d6d9de"></div>
<div style="position:absolute;left:646.5px;top:530px;width:15px;height:13px;background:#d42a4e;border-radius:2.5px"></div>
<svg style="position:absolute;left:651px;top:533px;" width="6" height="7" viewBox="0 0 6 7" fill="none"><path d="M0.5 0.5 L5.5 3.5 L0.5 6.5 Z" fill="#fff"/></svg>
<div style="position:absolute;left:669.5px;top:530px;width:1px;height:12px;background:#d6d9de"></div>
<svg style="position:absolute;left:679.5px;top:531px;" width="11.5" height="11" viewBox="0 0 11.5 11" fill="none"><rect x="0.7" y="0.7" width="10" height="9.6" stroke="#5a5e64" stroke-width="1.1"/><path d="M4 3 V8.5 M7.3 3 V8.5" stroke="#5a5e64" stroke-width="1"/><circle cx="5.65" cy="4.5" r="0.45" fill="#5a5e64"/><circle cx="5.65" cy="7" r="0.45" fill="#5a5e64"/></svg>
<svg style="position:absolute;left:703.5px;top:531px;" width="12" height="11" viewBox="0 0 12 11" fill="none"><rect x="2.8" y="2.5" width="6.4" height="6" stroke="#5a5e64" stroke-width="1.2"/><path d="M0.6 3 V0.6 H3 M9 0.6 H11.4 V3 M11.4 8 V10.4 H9 M3 10.4 H0.6 V8" stroke="#5a5e64" stroke-width="1"/></svg>
<div style="position:absolute;left:725.5px;top:528px;width:17px;height:16px;background:#dfe1e6"></div>
<svg style="position:absolute;left:728.5px;top:531px;" width="11" height="11" viewBox="0 0 11 11" fill="none"><path d="M1.5 7.5 V0.8 H9.5 V7.5" stroke="#5a5e64" stroke-width="1.2"/><path d="M0.5 9.3 H10.5 M0.5 9.3 L2 8 M0.5 9.3 L2 10.6 M10.5 9.3 L9 8 M10.5 9.3 L9 10.6" stroke="#5a5e64" stroke-width="1"/></svg>
<div style="position:absolute;left:749px;top:530px;width:1px;height:12px;background:#d6d9de"></div>
<div class="t" style="left:761.5px;top:531.8px;font-size:9.3px;line-height:9.3px;color:#333;font-weight:normal;">141%</div>
<div style="position:absolute;left:783px;top:501px;width:181.5px;height:39px;background:#fff;border-radius:2px 5px 5px 2px;box-shadow:0 0.5px 1.5px rgba(0,0,0,0.08)"></div>
<div class="t" style="left:798.5px;top:514.8px;font-size:11.1px;line-height:11.1px;color:#333;font-weight:normal;"><span style="-webkit-text-stroke:0.25px #333">03:02 /</span> <span style="color:#a0a0a0">120:00</span></div>
<div style="position:absolute;left:888px;top:510px;width:60.5px;height:22.5px;background:#f04b2e;border-radius:3px"></div>
<div class="t" style="left:896px;top:515.5px;font-size:11px;line-height:11px;color:#fff;font-weight:normal;">结束录制</div>
<svg style="position:absolute;left:950px;top:538px;" width="12" height="4" viewBox="0 0 12 4" fill="none"><circle cx="2" cy="2" r="1" fill="#999"/><circle cx="7" cy="2" r="1" fill="#999"/></svg>
</body></html>
